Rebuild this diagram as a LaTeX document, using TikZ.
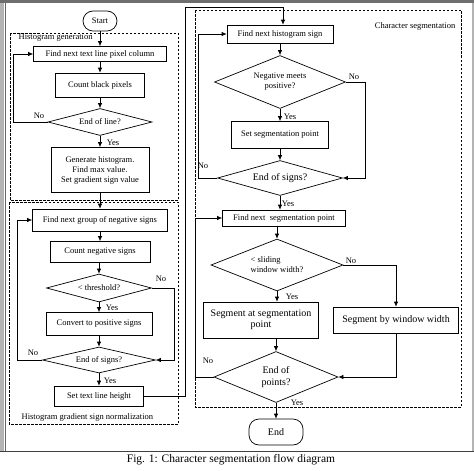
\documentclass[tikz,border=0pt]{standalone}
\usepackage{fontspec}
\setmainfont{Liberation Serif}
\usetikzlibrary{arrows.meta, positioning, shapes.geometric, calc}
\definecolor{cframe}{HTML}{B4B4B4}
\definecolor{cbar}{HTML}{6E6E6E}
\tikzset{
  every picture/.style={line width=0.7pt},
  txt/.style={font=\fontsize{8.5}{10}\selectfont},
  big/.style={font=\fontsize{10}{11.5}\selectfont},
  box/.style={draw, rectangle, align=center, inner sep=2pt, txt},
  dec/.style={draw, diamond, aspect=3, inner sep=0pt, align=center, txt},
  term/.style={draw, rectangle, rounded corners=10pt, align=center, txt},
  arrow/.style={-{Latex[length=5pt, width=4.5pt]}},
  group/.style={draw, dashed, dash pattern=on 2.5pt off 1.5pt, line width=0.7pt},
  tag/.style={txt, inner sep=0.5pt},
}
\begin{document}
\begin{tikzpicture}[x=1pt, y=-1pt]
  \useasboundingbox (0,0) rectangle (474,471);
  % frame of the page
  \fill[cframe] (0,0) rectangle (4,451);
  \fill[cframe] (472,0) rectangle (474,451);
  \fill[cbar] (0,0) rectangle (474,2.5);
  \draw[black!75, line width=1pt] (0,451) -- (474,451);
  \draw[black!60, line width=0.5pt] (5,2.5) -- (5,451);

  % dashed groups
  \draw[group] (10,33) rectangle (178,200);
  \draw[group] (9,202) rectangle (178,424);
  \draw[group] (195,10) rectangle (461,407);
  \node[txt, anchor=west] (lhist) at (15,38) {Histogram generation};
  \node[txt, anchor=west] (lnorm) at (18,417) {Histogram gradient sign normalization};
  \node[txt, anchor=east] (lchar) at (459,26) {Character segmentation};

  % left column
  \node[term, minimum width=34, minimum height=20] (start) at (100,21) {Start};
  \node[box, minimum width=133, minimum height=15] (col) at (100,54) {Find next text line pixel column};
  \node[box, minimum width=89, minimum height=24] (cnt) at (100,85) {Count black pixels};
  \node[dec, minimum width=104, minimum height=27] (eol) at (100,122) {End of line?};
  \node[box, minimum width=98, minimum height=45] (gen) at (100,170) {Generate histogram.\\Find max value.\\Set gradient sign value};
  \node[box, minimum width=135, minimum height=22] (grp) at (100,220) {Find next group of negative signs};
  \node[box, minimum width=100, minimum height=21] (cneg) at (100,252) {Count negative signs};
  \node[dec, minimum width=105, minimum height=28] (thr) at (99,288) {< threshold?};
  \node[box, minimum width=106, minimum height=23] (conv) at (99,324) {Convert to positive signs};
  \node[dec, minimum width=113, minimum height=26] (eos) at (99,360) {End of signs?};
  \node[box, minimum width=89, minimum height=20] (height) at (99,396) {Set text line height};

  % right column
  \node[box, minimum width=106, minimum height=18] (hsign) at (280,34) {Find next histogram sign};
  \node[dec, minimum width=131, minimum height=53] (neg) at (280,82) {Negative meets\\positive?};
  \node[box, minimum width=97, minimum height=27] (setp) at (280,135) {Set segmentation point};
  \node[dec, big, minimum width=125, minimum height=35] (eos2) at (280,178) {End of signs?};
  \node[box, minimum width=123, minimum height=16] (seg) at (284,218) {Find next\ \ segmentation point};
  \node[dec, align=left, minimum width=132, minimum height=52] (slide) at (277,265) {< sliding\\window width?};
  \node[box, big, minimum width=115, minimum height=36] (atseg) at (261,320) {Segment at segmentation\\point};
  \node[box, big, minimum width=125, minimum height=26] (bywin) at (396,320) {Segment by window width};
  \node[dec, big, minimum width=124, minimum height=51] (eop) at (276,377) {End of\\points?};
  \node[term, big, minimum width=54, minimum height=26] (end) at (276,432) {End};

  \coordinate (top) at (185,7);

  % straight flow
  \draw[arrow] (start) -- (col);
  \draw[arrow] (col) -- (cnt);
  \draw[arrow] (cnt) -- (eol);
  \draw[arrow] (eol) -- (gen);
  \draw[arrow] (gen) -- (grp);
  \draw[arrow] (grp) -- (cneg);
  \draw[arrow] (cneg.south -| thr) -- (thr);
  \draw[arrow] (thr) -- (conv);
  \draw[arrow] (conv) -- (eos);
  \draw[arrow] (eos) -- (height);
  \draw[arrow] (height.east) -| (top) -| ($(hsign.north)+(3,0)$);
  \draw[arrow] (hsign) -- (neg);
  \draw[arrow] (neg) -- (setp);
  \draw[arrow] (setp) -- (eos2);
  \draw[arrow] (eos2.south) -- (eos2.south |- seg.north);
  \draw[arrow] (seg.south -| slide) -- (slide.north);
  \draw[arrow] (slide.south) -- (slide.south |- atseg.north);
  \draw[arrow] (atseg.south -| eop) -- (eop.north);
  \draw[arrow] (eop) -- (end);

  % loops and branches
  \draw[arrow] (eol.west) -- ++(-34,0) |- (col.west);
  \draw[arrow] (thr.east) -- ++(22,0) |- (eos.east);
  \draw[arrow] (eos.west) -- ++(-25,0) |- (grp.west);
  \draw[arrow] (neg.east) -- ++(19,0) |- (eos2.east);
  \draw[arrow] (eos2.west) -- ++(-19,0) |- (hsign.west);
  \draw[arrow] (eop.west) -- ++(-18,0) |- (seg.west);
  \draw[arrow] (slide.east) -| (bywin.north);
  \draw[arrow] (bywin.south) |- (eop.east);

  % branch labels
  \node[tag] (no1) at (39,116) {No};
  \node[tag] (yes1) at (113,143) {Yes};
  \node[tag] (no2) at (161,279) {No};
  \node[tag] (yes2) at (112,308) {Yes};
  \node[tag] (no3) at (33,353) {No};
  \node[tag] (yes3) at (110,381) {Yes};
  \node[tag] (no4) at (354,77) {No};
  \node[tag] (yes4) at (290,117) {Yes};
  \node[tag] (no5) at (203,166) {No};
  \node[tag] (yes5) at (288,204) {Yes};
  \node[tag] (no6) at (351,261) {No};
  \node[tag] (yes6) at (292,297) {Yes};
  \node[tag] (no7) at (208,361) {No};
  \node[tag] (yes7) at (297,403) {Yes};

  % caption
  \node[font=\fontsize{11.5}{13}\selectfont] (cap) at (231,460) {Fig. 1: Character segmentation flow diagram};
\end{tikzpicture}
\end{document}
